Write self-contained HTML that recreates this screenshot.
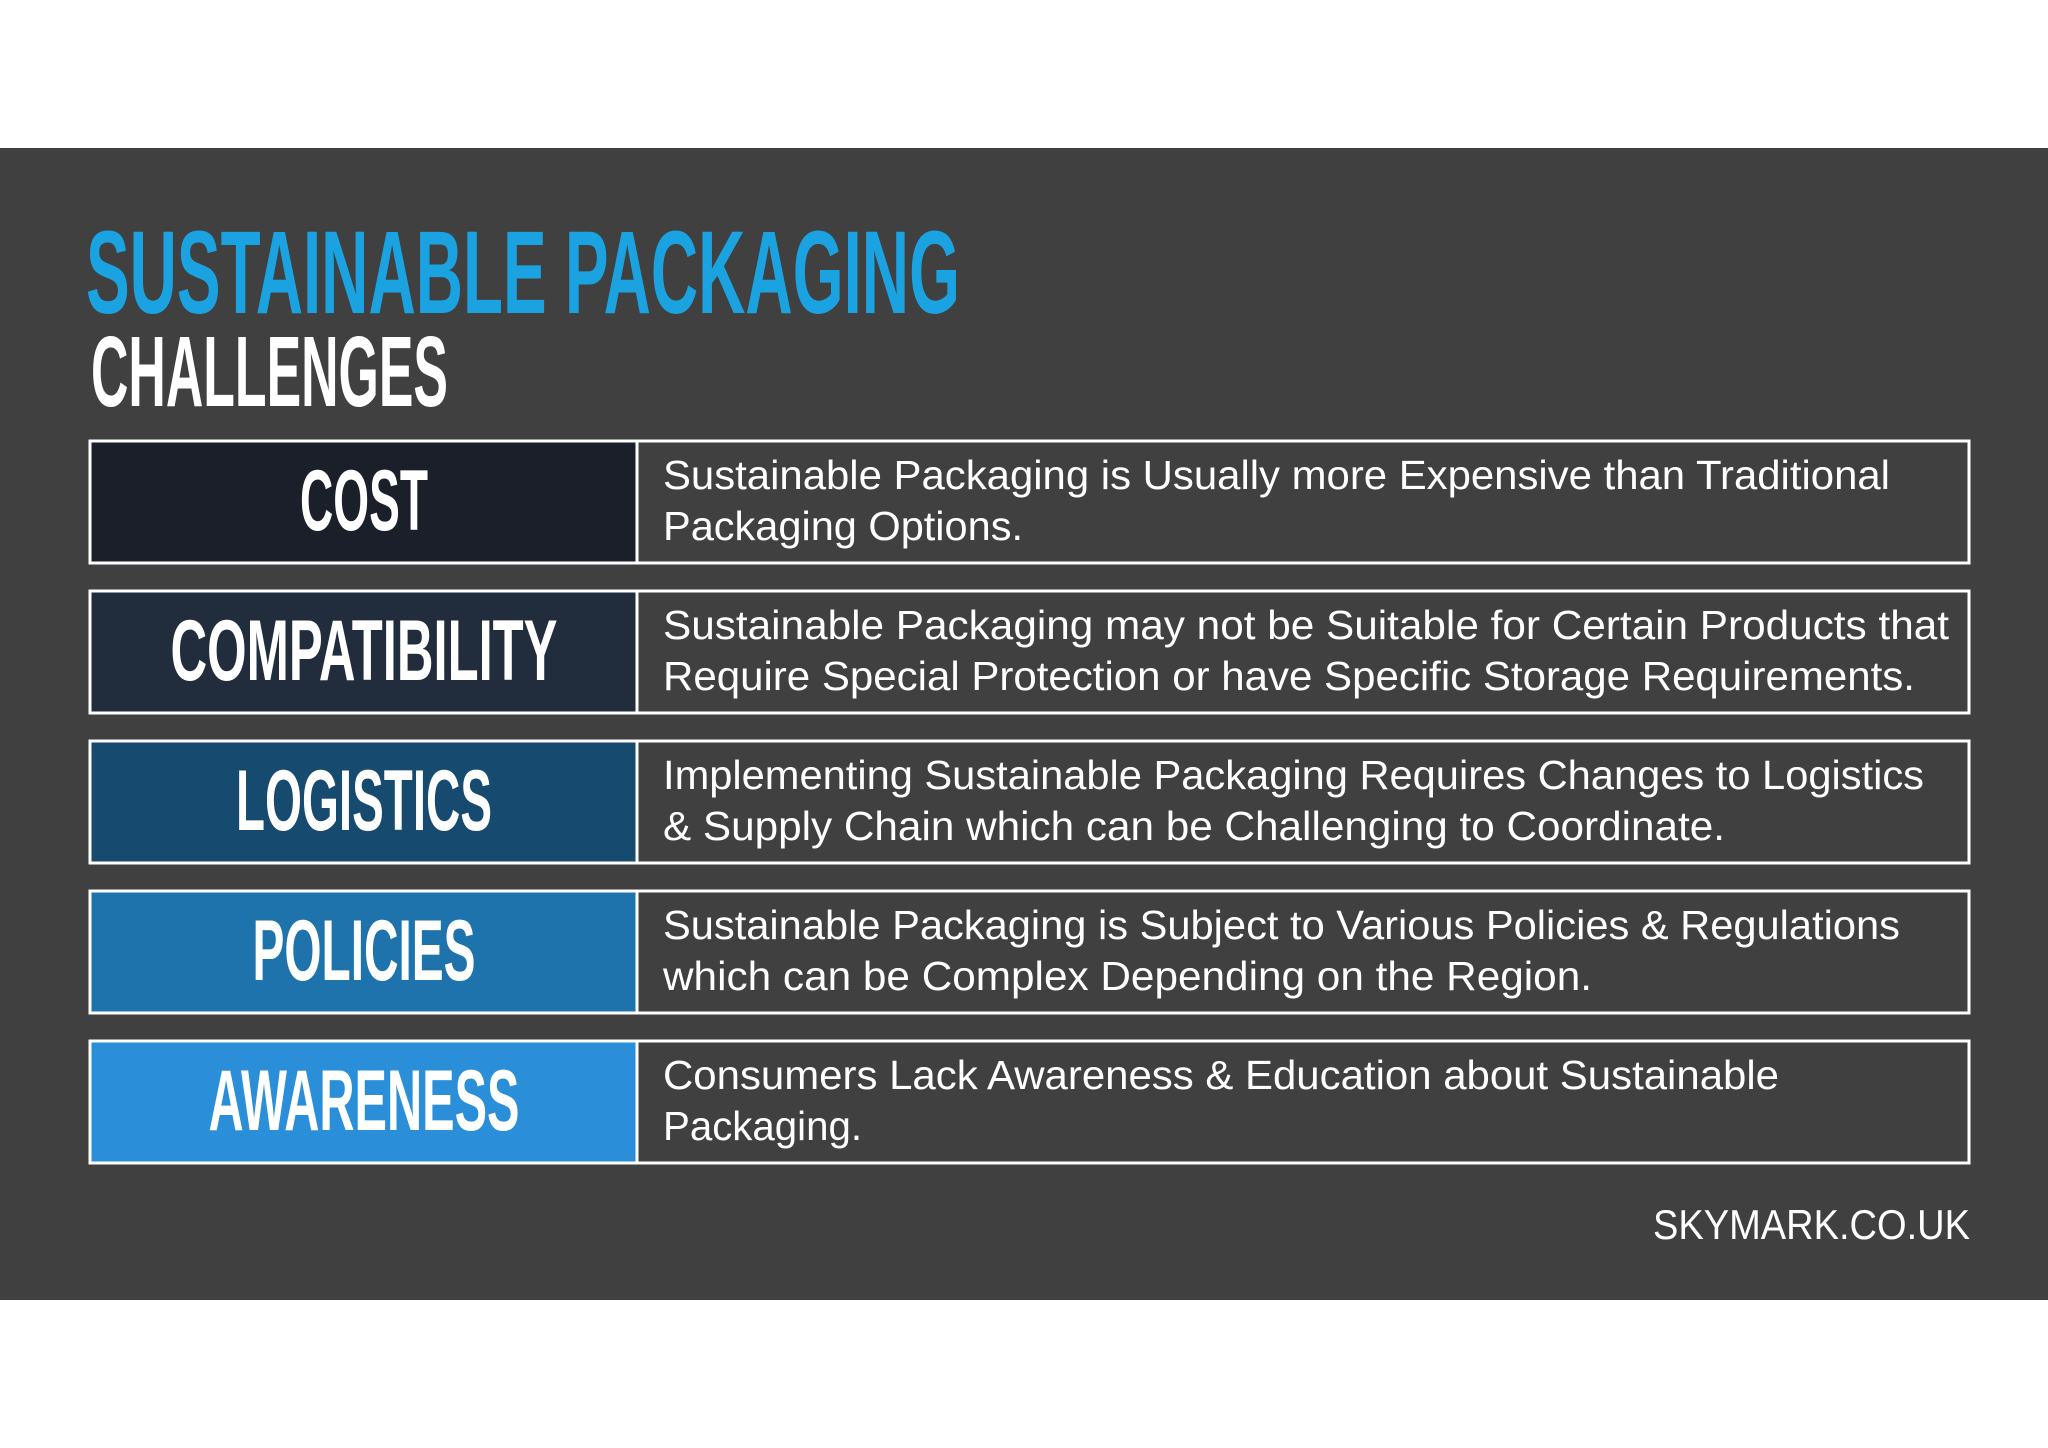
<!DOCTYPE html>
<html><head><meta charset="utf-8"><style>
html,body{margin:0;padding:0;background:#fff;}
svg{display:block}
</style></head><body>
<svg width="2048" height="1448" viewBox="0 0 2048 1448" xmlns="http://www.w3.org/2000/svg">
<rect x="0" y="0" width="2048" height="1448" fill="#ffffff"/>
<rect x="0" y="148" width="2048" height="1152" fill="#404040"/>
<text x="86" y="313" font-family="'Liberation Sans Narrow','Liberation Sans',sans-serif" font-weight="bold" font-size="118" fill="#1aa3e0" textLength="874" lengthAdjust="spacingAndGlyphs">SUSTAINABLE PACKAGING</text>
<text x="91" y="406" font-family="'Liberation Sans Narrow','Liberation Sans',sans-serif" font-weight="bold" font-size="100" fill="#ffffff" textLength="357" lengthAdjust="spacingAndGlyphs">CHALLENGES</text>
<g id="rows"></g>
<text x="1970" y="1239" text-anchor="end" font-family="'Liberation Sans',sans-serif" font-size="42" fill="#ffffff" textLength="317" lengthAdjust="spacingAndGlyphs">SKYMARK.CO.UK</text>
</svg>
<script>
const labels=["COST","COMPATIBILITY","LOGISTICS","POLICIES","AWARENESS"];
const labelWidths=[128,387,256,223,311];
const fills=["#1a1f29","#212d3c","#164a6e","#1f73ad","#2a8fd8"];
const line1=["Sustainable Packaging is Usually more Expensive than Traditional","Sustainable Packaging may not be Suitable for Certain Products that","Implementing Sustainable Packaging Requires Changes to Logistics","Sustainable Packaging is Subject to Various Policies & Regulations","Consumers Lack Awareness & Education about Sustainable"];
const line2=["Packaging Options.","Require Special Protection or have Specific Storage Requirements.","& Supply Chain which can be Challenging to Coordinate.","which can be Complex Depending on the Region.","Packaging."];
const end1=[1890,1949,1924,1900,1779];
const end2=[1023,1915,1725,1592,862];
const NS="http://www.w3.org/2000/svg";
const g=document.getElementById("rows");
function mk(t,a){const e=document.createElementNS(NS,t);for(const k in a)e.setAttribute(k,a[k]);return e;}
labels.forEach((lab,i)=>{
  const top=441+150*i;
  const row=mk("g",{});
  
  
  const outer=mk("rect",{x:90,y:top,width:1879,height:122,fill:"#404040",stroke:"#ffffff","stroke-width":3});
  
  
  row.appendChild(outer);
  const cell=mk("rect",{x:90,y:top,width:547,height:122,fill:fills[i],stroke:"#ffffff","stroke-width":3});
  
  
  row.appendChild(cell);
  const lt=mk("text",{x:364,y:top+89,"text-anchor":"middle","font-family":"'Liberation Sans Narrow','Liberation Sans',sans-serif","font-weight":"bold","font-size":86,fill:"#ffffff",textLength:labelWidths[i],lengthAdjust:"spacingAndGlyphs"});
  lt.textContent=lab;
  
  
  row.appendChild(lt);
  [[line1[i],end1[i],48],[line2[i],end2[i],99]].forEach(([s,e,dy])=>{
    const t=mk("text",{x:663,y:top+dy,"font-family":"'Liberation Sans',sans-serif","font-size":41,fill:"#ffffff",textLength:e-663,lengthAdjust:"spacingAndGlyphs"});
    t.textContent=s;
    
    
    row.appendChild(t);
  });
  g.appendChild(row);
});
</script>
</body></html>
